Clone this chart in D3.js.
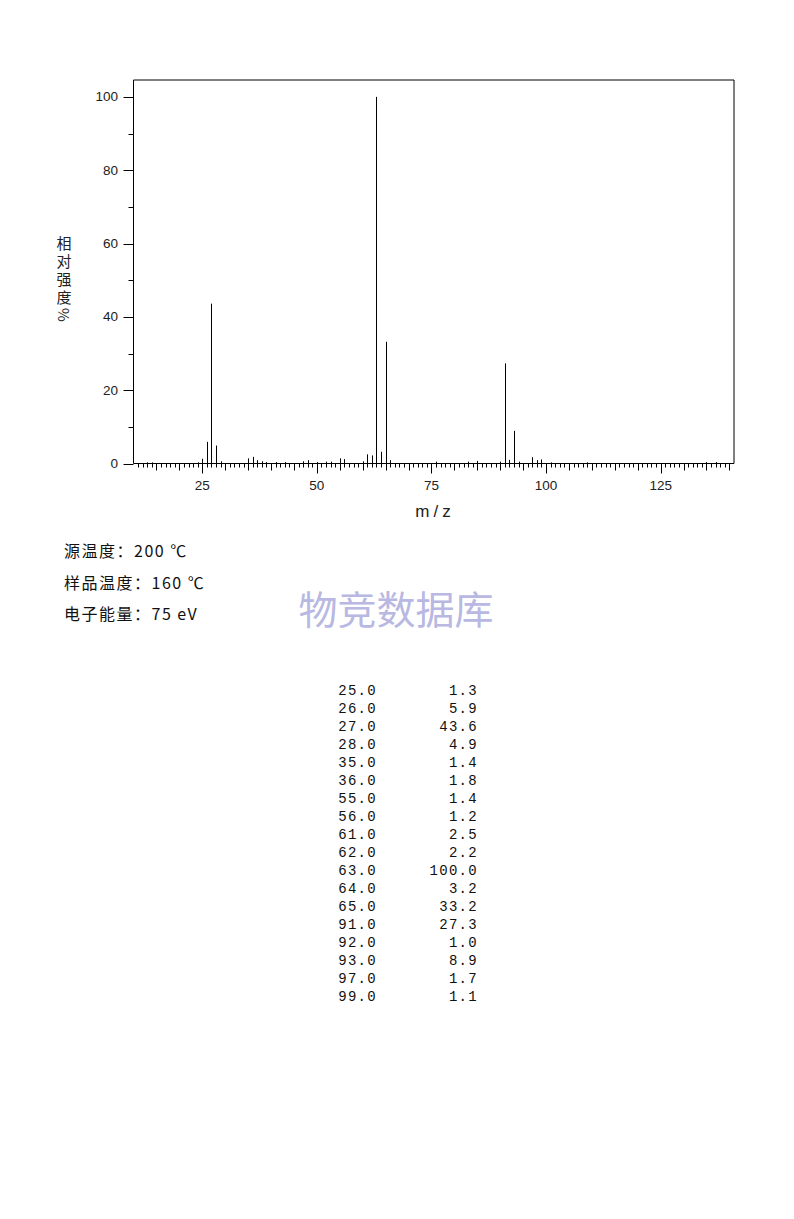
<!DOCTYPE html>
<html>
<head>
<meta charset="utf-8">
<script src="https://cdn.jsdelivr.net/npm/d3@7/dist/d3.min.js"></script>
<style>
  html, body { margin: 0; padding: 0; background: #fff; }
  svg { display: block; }
</style>
</head>
<body>
<svg id="chart" width="794" height="1219"></svg>
<script>
// Listed peaks (m/z, relative intensity %)
const mzValues = [25, 26, 27, 28, 35, 36, 55, 56, 61, 62, 63, 64, 65, 91, 92, 93, 97, 99];
const intensities = [1.3, 5.9, 43.6, 4.9, 1.4, 1.8, 1.4, 1.2, 2.5, 2.2, 100.0, 3.2, 33.2, 27.3, 1.0, 8.9, 1.7, 1.1];
// Minor (unlisted) peaks
const minorMz = [13, 14, 24, 29, 37, 38, 39, 41, 43, 47, 48, 50, 52, 53, 60, 66, 76, 83, 85, 90, 94, 98, 101, 109, 135, 137];
const minorInt = [0.3, 0.3, 0.3, 0.6, 0.9, 0.6, 0.4, 0.4, 0.4, 0.6, 0.9, 0.4, 0.5, 0.5, 0.6, 0.9, 0.5, 0.5, 0.7, 0.5, 0.5, 0.9, 0.3, 0.3, 0.4, 0.4];
const xTickLabels = [25, 50, 75, 100, 125];
const yTickLabels = [0, 20, 40, 60, 80, 100];
const yLabelChars = ["相", "对", "强", "度", "%"];
const infoLines = ["源温度：200 ℃", "样品温度：160 ℃", "电子能量：75 eV"];
const watermark = "物竞数据库";

const svg = d3.select("#chart");
const pLeft = 133.5, pRight = 734, pTop = 80, pBottom = 463.5;

const x = d3.scaleLinear().domain([10, 141]).range([pLeft, pRight]);
const y = d3.scaleLinear().domain([0, 104.6]).range([pBottom, pTop]);

const sans = "'Liberation Sans', 'DejaVu Sans', Arial, sans-serif";
const cjk = "'Noto Sans CJK SC', sans-serif";
const mono = "'Liberation Mono', 'DejaVu Sans Mono', monospace";

// Frame (top, left, right)
svg.append("path")
  .attr("d", `M${pLeft},${pBottom}V${pTop}H${pRight}V${pBottom}`)
  .attr("fill", "none").attr("stroke", "#000").attr("stroke-width", 1);

// Peaks
const allPeaks = mzValues.map((m, i) => ({ m, v: intensities[i] }))
  .concat(minorMz.map((m, i) => ({ m, v: minorInt[i] })));
svg.append("g").selectAll("line").data(allPeaks).join("line")
  .attr("x1", d => Math.round(x(d.m)) + 0.5)
  .attr("x2", d => Math.round(x(d.m)) + 0.5)
  .attr("y1", y(0))
  .attr("y2", d => y(d.v))
  .attr("stroke", "#000").attr("stroke-width", 1);

// X axis: baseline with ticks every unit
const xg = svg.append("g");
xg.append("line").attr("x1", pLeft).attr("x2", pRight)
  .attr("y1", pBottom).attr("y2", pBottom).attr("stroke", "#000");
const xTicks = d3.range(11, 141);
xg.selectAll("line.t").data(xTicks).join("line").attr("class", "t")
  .attr("x1", d => Math.round(x(d)) + 0.5).attr("x2", d => Math.round(x(d)) + 0.5)
  .attr("y1", pBottom)
  .attr("y2", d => pBottom + (d % 25 === 0 ? 10 : d % 5 === 0 ? 7 : 4))
  .attr("stroke", "#000");
xg.selectAll("text").data(xTickLabels).join("text")
  .attr("x", d => x(d)).attr("y", 490)
  .attr("text-anchor", "middle")
  .attr("font-family", sans).attr("font-size", 13.5).attr("fill", "#222")
  .text(d => d);
svg.append("text").attr("x", 435).attr("y", 517)
  .attr("text-anchor", "middle")
  .attr("font-family", sans).attr("font-size", 17).attr("letter-spacing", 4)
  .attr("fill", "#222").text("m/z");

// Y axis ticks
const yg = svg.append("g");
const yTicks = d3.range(0, 101, 10);
yg.selectAll("line").data(yTicks).join("line")
  .attr("x1", d => d % 20 === 0 ? pLeft - 10 : pLeft - 5).attr("x2", pLeft)
  .attr("y1", d => Math.round(y(d)) + 0.5).attr("y2", d => Math.round(y(d)) + 0.5)
  .attr("stroke", "#000");
yg.selectAll("text").data(yTickLabels).join("text")
  .attr("x", 118).attr("y", d => y(d) + 4.5)
  .attr("text-anchor", "end")
  .attr("font-family", sans).attr("font-size", 13.5).attr("fill", "#222")
  .text(d => d);

// Y axis label: vertical text, CJK upright, % sideways
svg.append("text")
  .attr("x", 64).attr("y", 236)
  .attr("writing-mode", "vertical-rl")
  .style("writing-mode", "vertical-rl")
  .attr("font-family", cjk).attr("font-size", 15).attr("letter-spacing", 3)
  .attr("fill", "#222")
  .text(yLabelChars.join(""));

// Info lines
svg.append("g").selectAll("text").data(infoLines).join("text")
  .attr("x", 64).attr("y", (d, i) => 557 + i * 31.5)
  .attr("font-family", cjk).attr("font-size", 16).attr("letter-spacing", 1.5)
  .attr("fill", "#111")
  .text(d => d);

// Watermark
svg.append("text").attr("x", 396).attr("y", 624)
  .attr("text-anchor", "middle")
  .attr("font-family", cjk).attr("font-size", 39).attr("fill", "#b8b8e2")
  .text(watermark);

// Peak table
const rows = mzValues.map((m, i) => [m.toFixed(1), intensities[i].toFixed(1)]);
const tg = svg.append("g")
  .attr("font-family", mono).attr("font-size", 14).attr("letter-spacing", 1.3)
  .attr("fill", "#111");
tg.selectAll("text.c1").data(rows).join("text").attr("class", "c1")
  .attr("x", 377).attr("y", (d, i) => 695 + i * 18)
  .attr("text-anchor", "end")
  .text(d => d[0]);
tg.selectAll("text.c2").data(rows).join("text").attr("class", "c2")
  .attr("x", 478).attr("y", (d, i) => 695 + i * 18)
  .attr("text-anchor", "end")
  .text(d => d[1]);
</script>
</body>
</html>
